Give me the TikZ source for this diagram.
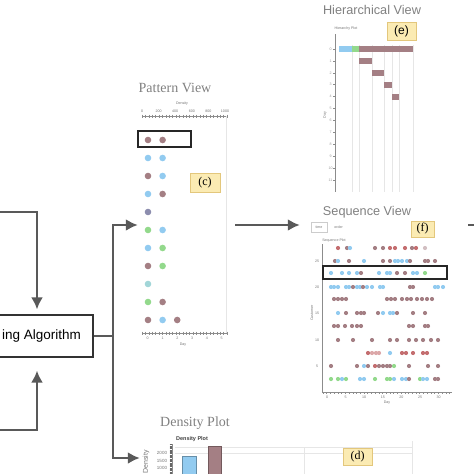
\documentclass[tikz,border=0pt]{standalone}
\usepackage{fontspec}
\setmainfont{Liberation Serif}
\setsansfont{Liberation Sans}
\usetikzlibrary{positioning, arrows.meta}

\definecolor{arrowGray}{HTML}{595959}
\definecolor{titleGray}{HTML}{808080}
\definecolor{mauve}{HTML}{A47F84}
\definecolor{rosy}{HTML}{C46E70}
\definecolor{skyBlue}{HTML}{92CBF0}
\definecolor{leafGreen}{HTML}{93D98C}
\definecolor{slate}{HTML}{8C8DAE}
\definecolor{mint}{HTML}{A2D6D8}
\definecolor{tagFill}{HTML}{FBEBB3}
\definecolor{tagDraw}{HTML}{E3C77C}
\definecolor{gridGray}{HTML}{E6E6E6}

\begin{document}
\begin{tikzpicture}[
    x = 1pt, y = -1pt,
    algoNode/.append style = {draw = black!80, line width = 1.2pt, rectangle, minimum height = 42pt, minimum width = 103pt, font = \sffamily\fontsize{13.5}{16}\selectfont},
    panelNode/.append style = {rectangle, inner sep = 0pt},
    titleSerif/.append style = {text = titleGray, font = \fontsize{14}{16}\selectfont, inner sep = 0pt},
    titleSans/.append style = {text = titleGray, font = \sffamily\fontsize{12.7}{15}\selectfont, inner sep = 0pt},
    tagBox/.append style = {draw = tagDraw, fill = tagFill, line width = 0.7pt, inner sep = 0pt, font = \fontsize{12}{14}\selectfont},
    tinyText/.append style = {text = black!55, font = \sffamily\fontsize{3.6}{4}\selectfont, inner sep = 0pt},
    flowArrow/.append style = {->, >={Latex[length = 12pt, width = 12pt]}, draw = arrowGray, line width = 2.7pt},
    flowLine/.append style = {draw = arrowGray, line width = 2.7pt},
    gridLine/.append style = {draw = gridGray, line width = 0.5pt},
    axisLine/.append style = {draw = black!45, line width = 0.45pt}
    ]
      \useasboundingbox (0,0) rectangle (474,474);
      \clip (0,0) rectangle (474,474);

      \node[algoNode] (algo) at (41.5,336) {ing Algorithm};

      \node[panelNode, minimum width = 90pt, minimum height = 250pt] (patternPanel) at (183,225) {};
      \node[panelNode, minimum width = 160pt, minimum height = 195pt] (seqPanel) at (382,312.5) {};
      \node[panelNode, minimum width = 272pt, minimum height = 56pt] (densityPanel) at (276,458) {};

      %% Titles
      \node[titleSerif] (patternTitle) at (175,88) {Pattern View};
      \node[titleSans] (hierTitle) at (372,10) {Hierarchical View};
      \node[titleSans] (seqTitle) at (367,212) {Sequence View};
      \node[titleSerif] (densityTitle) at (195,423) {Density Plot};

      %% Pattern view
      \node[tinyText] (patDensity) at (182,104) {Density};
      \foreach \v [count = \i from 0] in {0,200,400,600,800,1000}
        \node[tinyText] at ({142 + 16.6*\i},111) {\v};
      \draw[axisLine] (142,116) -- (227,116);
      \foreach \t in {0,...,25}
        \draw[axisLine] ({142 + 3.4*\t},114.5) -- ++(0,3);
      \draw[gridLine] (226,116) -- (226,333);
      \draw[axisLine] (142,333) -- (227,333);
      \foreach \t in {0,...,25}
        \draw[axisLine] ({142 + 3.4*\t},331.5) -- ++(0,3);
      \foreach \d in {0,...,5}
        \node[tinyText] at ({147.7 + 14.8*\d},338.5) {\d};
      \node[tinyText] (patDay) at (183,345) {Day};
      \foreach \c/\r/\col in {0/0/mauve, 1/0/mauve, 0/1/skyBlue, 1/1/skyBlue, 0/2/mauve, 1/2/skyBlue,
          0/3/skyBlue, 1/3/mauve, 0/4/slate, 0/5/leafGreen, 1/5/skyBlue, 0/6/skyBlue, 1/6/leafGreen,
          0/7/mauve, 1/7/leafGreen, 0/8/mint, 0/9/leafGreen, 1/9/mauve, 0/10/mauve, 1/10/skyBlue, 2/10/mauve}
        \fill[\col] ({148 + 14.6*\c},{140 + 18*\r}) circle (3.3pt);
      \draw[black!85, line width = 1.3pt] (138,131) rectangle (191,147);

      %% Hierarchical view
      \node[tinyText] (hierName) at (346,29) {Hierarchy Plot};
      \foreach \x in {352,359,372,384,392,399,413}
        \draw[gridLine] (\x,45) -- (\x,192);
      \draw[axisLine] (335,34) -- (335,192);
      \foreach \r in {0,...,11} {
        \draw[axisLine] (333,{49 + 11.9*\r}) -- (335,{49 + 11.9*\r});
        \node[tinyText, text = black!40] at (330.5,{49 + 11.9*\r}) {\r};
      }
      \node[tinyText, rotate = 90] (hierDay) at (325,115) {Day};
      \foreach \xa/\xb/\r/\col in {339/352/0/skyBlue, 352/359/0/leafGreen, 359/413/0/mauve, 359/372/1/mauve,
          372/384/2/mauve, 384/392/3/mauve, 392/399/4/mauve}
        \fill[\col] (\xa,{46 + 11.9*\r}) rectangle (\xb,{52 + 11.9*\r});

      %% Sequence view
      \node[draw = black!20, line width = 0.4pt, minimum width = 16pt, minimum height = 10pt, tinyText] (seqTime) at (319,227) {time};
      \node[tinyText, right = 7pt of seqTime] (seqOrder) {order};
      \node[tinyText] (seqName) at (334,241) {Sequence Plot};
      \draw[axisLine] (322,244) -- (322,392) -- (452,392);
      \foreach \t in {0,...,34}
        \draw[axisLine] ({323 + 3.72*\t},392) -- ++(0,2);
      \foreach \d [count = \i from 0] in {0,5,...,30}
        \node[tinyText] at ({327 + 18.6*\i},397.5) {\d};
      \node[tinyText] (seqDay) at (387,403) {Day};
      \node[tinyText, rotate = 90] (seqWho) at (312,313) {Customer};
      \foreach \y/\lab in {261/25, 287/20, 313/15, 340/10, 366/5}
        \node[tinyText] at (317,\y) {\lab};
      \foreach \y/\pts in {
          248/{338/rosy, 347/mauve, 350/skyBlue, 375/mauve, 383/mauve, 390/rosy, 395/rosy, 405/rosy, 412/mauve, 416/rosy, 425/mauve!50},
          261/{335/mauve, 338/skyBlue, 349/mauve, 364/skyBlue, 383/mauve, 390/mauve, 395/skyBlue, 398/skyBlue, 402/skyBlue, 407/skyBlue, 410/mauve, 425/mauve, 428/mauve, 435/mauve},
          273/{331/skyBlue, 342/skyBlue, 349/skyBlue, 357/skyBlue, 361/mauve, 379/skyBlue, 387/skyBlue, 390/skyBlue, 397/mauve, 405/mauve, 413/skyBlue, 417/skyBlue, 425/leafGreen},
          287/{331/skyBlue, 334/skyBlue, 338/skyBlue, 346/skyBlue, 349/skyBlue, 353/mauve, 357/skyBlue, 360/skyBlue, 363/mauve, 367/skyBlue, 372/skyBlue, 380/skyBlue, 383/skyBlue, 410/mauve, 413/mauve, 435/skyBlue, 438/skyBlue, 443/skyBlue},
          299/{334/mauve, 338/mauve, 342/mauve, 346/mauve, 387/mauve, 391/mauve, 395/mauve, 402/mauve, 407/mauve, 411/mauve, 417/mauve, 422/mauve, 427/mauve, 432/mauve},
          313/{338/skyBlue, 346/mauve, 357/mauve, 361/mauve, 364/mauve, 378/mauve, 383/skyBlue, 390/skyBlue, 393/skyBlue, 397/mauve, 413/mauve, 425/mauve},
          326/{334/mauve, 338/mauve, 345/mauve, 352/mauve, 357/mauve, 361/mauve, 409/mauve, 413/mauve, 425/mauve, 428/mauve},
          340/{338/mauve, 353/mauve, 372/mauve, 390/mauve, 397/mauve, 409/mauve, 416/mauve, 423/mauve, 431/mauve, 438/mauve},
          353/{368/rosy, 372/rosy!60, 376/rosy!60, 379/rosy!60, 390/skyBlue, 402/rosy, 406/rosy, 413/rosy, 423/rosy, 427/rosy},
          366/{331/mauve, 357/mauve, 364/skyBlue, 368/mauve, 375/rosy, 379/mauve, 383/mauve, 387/mauve, 390/mauve, 394/leafGreen, 409/mauve, 428/mauve, 438/mauve},
          379/{331/leafGreen, 338/leafGreen, 342/skyBlue, 346/leafGreen, 360/skyBlue, 364/skyBlue, 375/leafGreen, 387/leafGreen, 390/leafGreen, 394/skyBlue, 402/skyBlue, 406/skyBlue, 409/mauve, 420/leafGreen, 423/skyBlue, 427/skyBlue, 435/mauve, 438/mauve}}
        \foreach \x/\col in \pts
          \fill[\col] (\x,\y) circle (2.1pt);
      \draw[black!85, line width = 1.3pt] (323,266) rectangle (447,279);

      %% Density plot
      \draw[gridLine] (175,447) -- (412,447);
      \draw[gridLine] (175,453) -- (412,453);
      \draw[gridLine] (304,447) -- (304,474);
      \draw[gridLine] (412,441) -- (412,474);
      \node[font = \sffamily\bfseries\fontsize{5.5}{6}\selectfont, text = black!75, inner sep = 0pt] (densName) at (192,439) {Density Plot};
      \draw[axisLine] (172,444) -- (172,474);
      \foreach \t in {0,...,22}
        \draw[black!60, line width = 0.35pt] (169.5,{444.5 + 1.3*\t}) -- (172,{444.5 + 1.3*\t});
      \foreach \y/\v in {452.7/2000, 460.7/1500, 467.5/1000}
        \node[tinyText, font = \sffamily\fontsize{4.5}{5}\selectfont] at (162,\y) {\v};
      \node[tinyText, rotate = 90, font = \sffamily\fontsize{7}{8}\selectfont] (densAxis) at (146,462) {Density};
      \draw[fill = skyBlue, draw = skyBlue!70!black, line width = 0.5pt] (182,456) rectangle (196,480);
      \draw[fill = mauve, draw = mauve!70!black, line width = 0.5pt] (208,446) rectangle (221,480);

      %% Tags
      \node[tagBox, minimum width = 30pt, minimum height = 19pt] (tagC) at (205,182.5) {(c)};
      \node[tagBox, minimum width = 29pt, minimum height = 18pt, font = \sffamily\fontsize{12}{14}\selectfont] (tagE) at (401.5,31) {(e)};
      \node[tagBox, minimum width = 23pt, minimum height = 16pt] (tagF) at (422.5,229) {(f)};
      \node[tagBox, minimum width = 29pt, minimum height = 17pt] (tagD) at (357.5,456.5) {(d)};

      %% Arrows
      \coordinate (inTop) at (0,212);
      \coordinate (inBot) at (0,430);
      \coordinate (split) at (113,336);
      \coordinate (nextIn) at (468,225);

      \draw[flowArrow, shorten > = 5pt] (inTop) -| ([xshift = -4.5pt]algo.north);
      \draw[flowArrow, shorten > = 13pt] (inBot) -| ([xshift = -4.5pt]algo.south);
      \draw[flowLine] (algo.east) -- (split);
      \draw[flowArrow] (split) |- (patternPanel.west);
      \draw[flowArrow] (split) |- (densityPanel.west);
      \draw[flowArrow, shorten < = 7pt, shorten > = 2pt] (patternPanel.east) -- (patternPanel.east -| seqPanel.west);
      \draw[flowLine] (nextIn) -- ++(10,0);
    \end{tikzpicture}
\end{document}
